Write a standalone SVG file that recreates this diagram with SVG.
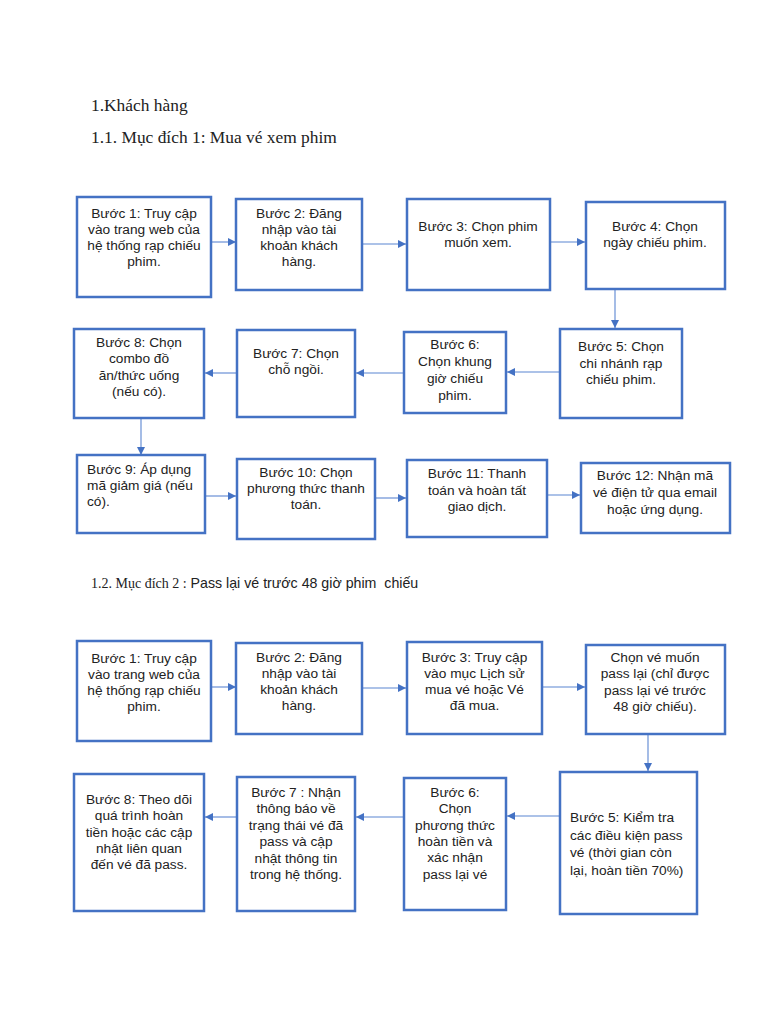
<svg xmlns="http://www.w3.org/2000/svg" width="768" height="1024" viewBox="0 0 768 1024">
<style>
.box{fill:#fff;stroke:#4472C4;stroke-width:2.5}
.t{font-family:"Liberation Sans",Arial,sans-serif;font-size:13.7px;fill:#222;text-anchor:middle}
.tl{font-family:"Liberation Sans",Arial,sans-serif;font-size:13.7px;fill:#222;text-anchor:start}
.h{font-family:"Liberation Serif","Times New Roman",serif;font-size:17.4px;fill:#222}
.c{stroke:#5B86D2;stroke-width:1.1;fill:none;marker-end:url(#ah)}
</style>
<defs>
<marker id="ah" markerUnits="userSpaceOnUse" markerWidth="9" markerHeight="8" refX="8" refY="4" orient="auto">
<path d="M0,0 L8,4 L0,8 z" fill="#4472C4"/>
</marker>
</defs>
<rect width="768" height="1024" fill="#fff"/>
<text class="h" x="91" y="111">1.Khách hàng</text>
<text class="h" x="91" y="143">1.1. Mục đích 1: Mua vé xem phim</text>
<text x="91" y="588" xml:space="preserve" style="font-family:'Liberation Serif','Times New Roman',serif;font-size:14px;fill:#222">1.2. Mục đích 2 :<tspan style="font-family:'Liberation Sans',Arial,sans-serif;font-size:14.2px"> Pass lại vé trước 48 giờ phim  chiếu</tspan></text>

<g id="connectors">
<line class="c" x1="211" y1="242" x2="236" y2="242"/>
<line class="c" x1="362" y1="244" x2="406" y2="244"/>
<line class="c" x1="550" y1="242" x2="585" y2="242"/>
<line class="c" x1="615" y1="290" x2="615" y2="328"/>
<line class="c" x1="560" y1="372" x2="507" y2="372"/>
<line class="c" x1="404" y1="373" x2="356" y2="373"/>
<line class="c" x1="237" y1="373" x2="205" y2="373"/>
<line class="c" x1="141" y1="418" x2="141" y2="455"/>
<line class="c" x1="205" y1="496" x2="236" y2="496"/>
<line class="c" x1="375" y1="498" x2="406" y2="498"/>
<line class="c" x1="547" y1="495" x2="580" y2="495"/>

<line class="c" x1="211" y1="687" x2="236" y2="687"/>
<line class="c" x1="362" y1="688" x2="406" y2="688"/>
<line class="c" x1="542" y1="687" x2="585" y2="687"/>
<line class="c" x1="648" y1="735" x2="648" y2="771"/>
<line class="c" x1="560" y1="816" x2="507" y2="816"/>
<line class="c" x1="404" y1="817" x2="356" y2="817"/>
<line class="c" x1="237" y1="817" x2="205" y2="817"/>
</g>

<g id="s1b1"><rect class="box" x="77" y="197" width="134" height="100"/>
<text class="t" x="144" y="218">Bước 1: Truy cập<tspan x="144" dy="16">vào trang web của</tspan><tspan x="144" dy="16">hệ thống rạp chiếu</tspan><tspan x="144" dy="16">phim.</tspan></text></g>
<g id="s1b2"><rect class="box" x="236" y="199" width="126" height="91"/>
<text class="t" x="299" y="218">Bước 2: Đăng<tspan x="299" dy="16">nhập vào tài</tspan><tspan x="299" dy="16">khoản khách</tspan><tspan x="299" dy="16">hàng.</tspan></text></g>
<g id="s1b3"><rect class="box" x="407" y="199" width="143" height="91"/>
<text class="t" x="478" y="231">Bước 3: Chọn phim<tspan x="478" dy="16">muốn xem.</tspan></text></g>
<g id="s1b4"><rect class="box" x="586" y="202" width="139" height="87"/>
<text class="t" x="655" y="231">Bước 4: Chọn<tspan x="655" dy="16">ngày chiếu phim.</tspan></text></g>

<g id="s1b8"><rect class="box" x="74" y="329" width="130" height="89"/>
<text class="t" x="139" y="347">Bước 8: Chọn<tspan x="139" dy="16.3">combo đồ</tspan><tspan x="139" dy="16.3">ăn/thức uống</tspan><tspan x="139" dy="16.3">(nếu có).</tspan></text></g>
<g id="s1b7"><rect class="box" x="237" y="330" width="118" height="87"/>
<text class="t" x="296" y="358">Bước 7: Chọn<tspan x="296" dy="16">chỗ ngồi.</tspan></text></g>
<g id="s1b6"><rect class="box" x="404" y="332" width="102" height="81"/>
<text class="t" x="455" y="349">Bước 6:<tspan x="455" dy="17">Chọn khung</tspan><tspan x="455" dy="17">giờ chiếu</tspan><tspan x="455" dy="17">phim.</tspan></text></g>
<g id="s1b5"><rect class="box" x="560" y="329" width="122" height="89"/>
<text class="t" x="621" y="351">Bước 5: Chọn<tspan x="621" dy="16.5">chi nhánh rạp</tspan><tspan x="621" dy="16.5">chiếu phim.</tspan></text></g>

<g id="s1b9"><rect class="box" x="77" y="455" width="128" height="78"/>
<text class="tl" x="87" y="474">Bước 9: Áp dụng<tspan x="87" dy="16">mã giảm giá (nếu</tspan><tspan x="87" dy="16">có).</tspan></text></g>
<g id="s1b10"><rect class="box" x="237" y="459" width="138" height="80"/>
<text class="t" x="306" y="477">Bước 10: Chọn<tspan x="306" dy="16">phương thức thanh</tspan><tspan x="306" dy="16">toán.</tspan></text></g>
<g id="s1b11"><rect class="box" x="407" y="460" width="140" height="77"/>
<text class="t" x="477" y="478">Bước 11: Thanh<tspan x="477" dy="16.5">toán và hoàn tất</tspan><tspan x="477" dy="16.5">giao dịch.</tspan></text></g>
<g id="s1b12"><rect class="box" x="581" y="463" width="149" height="70"/>
<text class="t" x="655" y="480">Bước 12: Nhận mã<tspan x="655" dy="17">vé điện tử qua email</tspan><tspan x="655" dy="17">hoặc ứng dụng.</tspan></text></g>

<g id="s2b1"><rect class="box" x="77" y="641" width="134" height="100"/>
<text class="t" x="144" y="663">Bước 1: Truy cập<tspan x="144" dy="16">vào trang web của</tspan><tspan x="144" dy="16">hệ thống rạp chiếu</tspan><tspan x="144" dy="16">phim.</tspan></text></g>
<g id="s2b2"><rect class="box" x="236" y="643" width="126" height="91"/>
<text class="t" x="299" y="662">Bước 2: Đăng<tspan x="299" dy="16">nhập vào tài</tspan><tspan x="299" dy="16">khoản khách</tspan><tspan x="299" dy="16">hàng.</tspan></text></g>
<g id="s2b3"><rect class="box" x="407" y="642" width="135" height="92"/>
<text class="t" x="474.5" y="662">Bước 3: Truy cập<tspan x="474.5" dy="16">vào mục Lịch sử</tspan><tspan x="474.5" dy="16">mua vé hoặc Vé</tspan><tspan x="474.5" dy="16">đã mua.</tspan></text></g>
<g id="s2b4"><rect class="box" x="586" y="645" width="139" height="89"/>
<text class="t" x="655" y="662">Chọn vé muốn<tspan x="655" dy="16.3">pass lại (chỉ được</tspan><tspan x="655" dy="16.3">pass lại vé trước</tspan><tspan x="655" dy="16.3">48 giờ chiếu).</tspan></text></g>

<g id="s2b8"><rect class="box" x="74" y="774" width="130" height="137"/>
<text class="t" x="139" y="804">Bước 8: Theo dõi<tspan x="139" dy="16.3">quá trình hoàn</tspan><tspan x="139" dy="16.3">tiền hoặc các cập</tspan><tspan x="139" dy="16.3">nhật liên quan</tspan><tspan x="139" dy="16.3">đến vé đã pass.</tspan></text></g>
<g id="s2b7"><rect class="box" x="237" y="777" width="118" height="134"/>
<text class="t" x="296" y="797">Bước 7 : Nhận<tspan x="296" dy="16.4">thông báo về</tspan><tspan x="296" dy="16.4">trạng thái vé đã</tspan><tspan x="296" dy="16.4">pass và cập</tspan><tspan x="296" dy="16.4">nhật thông tin</tspan><tspan x="296" dy="16.4">trong hệ thống.</tspan></text></g>
<g id="s2b6"><rect class="box" x="404" y="778" width="102" height="132"/>
<text class="t" x="455" y="797">Bước 6:<tspan x="455" dy="16.3">Chọn</tspan><tspan x="455" dy="16.3">phương thức</tspan><tspan x="455" dy="16.3">hoàn tiền và</tspan><tspan x="455" dy="16.3">xác nhận</tspan><tspan x="455" dy="16.3">pass lại vé</tspan></text></g>
<g id="s2b5"><rect class="box" x="560" y="772" width="137" height="142"/>
<text class="tl" x="570" y="822">Bước 5: Kiểm tra<tspan x="570" dy="17.6">các điều kiện pass</tspan><tspan x="570" dy="17.6">vé (thời gian còn</tspan><tspan x="570" dy="17.6">lại, hoàn tiền 70%)</tspan></text></g>
</svg>
